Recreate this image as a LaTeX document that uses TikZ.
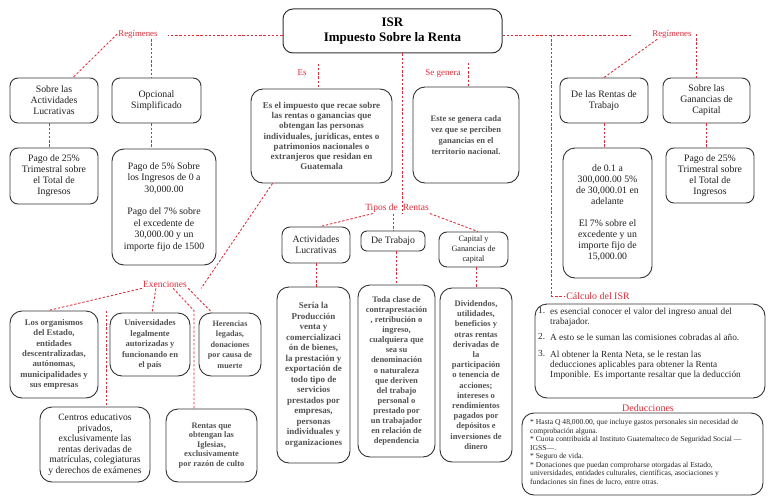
\documentclass[tikz,border=0pt]{standalone}
\usepackage{fontspec}
\setmainfont{Liberation Serif}
\usetikzlibrary{calc}
\definecolor{rd}{RGB}{226,42,54}
\begin{document}
\begin{tikzpicture}[x=1pt,y=-1pt,
  bx/.style={draw=black!80, line width=0.9pt, rounded corners=8pt, align=center, inner sep=1pt, text=black!88},
  rg/.style 2 args={font=\fontsize{#1}{#2}\selectfont},
  gb/.style 2 args={text=black!68, font=\bfseries\fontsize{#1}{#2}\selectfont},
  lb/.style={text=rd, inner sep=1pt},
  cn/.style={draw=rd, line width=0.85pt, dash pattern=on 2.4pt off 1.8pt}
]
\fill[white] (0,0) rectangle (768,503);
\useasboundingbox (0,0) rectangle (768,503);

% title
\node[bx, rounded corners=10pt, line width=1pt, minimum width=219pt, minimum height=44pt,
      font=\bfseries\fontsize{13}{15.7}\selectfont, text=black] (title) at (392.5,31) {ISR\\Impuesto Sobre la Renta};

% labels
\node[lb, rg={8.8}{10}] (reg1) at (138,34) {Regímenes};
\node[lb, rg={8.8}{10}] (reg2) at (672,34) {Regímenes};
\node[lb, rg={9}{10}] (esl) at (302,73) {Es};
\node[lb, rg={9}{10}] (genl) at (443,73) {Se genera};
\node[lb, rg={9.5}{11}] (tipos) at (397,208) {Tipos de\hspace{5pt}Rentas};
\node[lb, rg={9.5}{11}] (exl) at (165,284) {Exenciones};
\node[lb, rg={9.9}{11}] (calcl) at (598,296) {Cálculo del ISR};
\node[lb, rg={10}{11}] (dedl) at (648,408) {Deducciones};

% left regimes
\node[bx, rg={9.8}{11}, minimum width=88pt, minimum height=45pt] (b1) at (54,100.5) {Sobre las\\Actividades\\Lucrativas};
\node[bx, rg={9.8}{11}, minimum width=89pt, minimum height=45pt] (b2) at (156.5,100.5) {Opcional\\Simplificado};
\node[bx, rg={9.8}{11}, minimum width=88pt, minimum height=56pt] (p1) at (54,176) {Pago de 25\%\\Trimestral sobre\\el Total de\\Ingresos};
\node[bx, rounded corners=12pt, rg={9.8}{11.5}, minimum width=104pt, minimum height=116pt] (p2) at (164,207) {Pago de 5\% Sobre\\los Ingresos de 0 a\\30,000.00\\[11pt]Pago del 7\% sobre\\el excedente de\\30,000.00 y un\\importe fijo de 1500};

% right regimes
\node[bx, rg={9.8}{11}, minimum width=88pt, minimum height=45pt] (b3) at (604,100.5) {De las Rentas de\\Trabajo};
\node[bx, rg={9.8}{11}, minimum width=87pt, minimum height=45pt] (b4) at (706.5,100.5) {Sobre las\\Ganancias de\\Capital};
\node[bx, rounded corners=12pt, rg={9.8}{11}, minimum width=89pt, minimum height=130pt] (p3) at (607.5,213) {de 0.1 a\\300,000.00 5\%\\de 30,000.01 en\\adelante\\[11pt]El 7\% sobre el\\excedente y un\\importe fijo de\\15,000.00};
\node[bx, rg={9.8}{11}, minimum width=88pt, minimum height=55pt] (p4) at (710,175.5) {Pago de 25\%\\Trimestral sobre\\el Total de\\Ingresos};

% Es / Se genera
\node[bx, rounded corners=12pt, gb={9}{10.1}, minimum width=141pt, minimum height=94pt] (es) at (321.5,136) {Es el impuesto que recae sobre\\las rentas o ganancias que\\obtengan las personas\\individuales, jurídicas, entes o\\patrimonios nacionales o\\extranjeros que residan en\\Guatemala};
\node[bx, rounded corners=12pt, gb={8.5}{11}, minimum width=106pt, minimum height=96pt] (gen) at (466,135) {Este se genera cada\\vez que se perciben\\ganancias en el\\territorio nacional.};

% tipos de rentas
\node[bx, rg={9.8}{11}, minimum width=68pt, minimum height=36pt] (act) at (316,245) {Actividades\\Lucrativas};
\node[bx, rounded corners=6pt, rg={9.8}{11}, minimum width=64pt, minimum height=20pt] (trab) at (393,241) {De Trabajo};
\node[bx, rg={8.2}{9.8}, minimum width=69pt, minimum height=35pt] (cap) at (473.5,249.5) {Capital y\\Ganancias de\\capital};
\node[bx, rounded corners=12pt, gb={9}{10.5}, minimum width=73pt, minimum height=176pt] (t1) at (313.5,375) {Sería la\\Producción\\venta y\\comercializaci\\ón de bienes,\\la prestación y\\exportación de\\todo tipo de\\servicios\\prestados por\\empresas,\\personas\\individuales y\\organizaciones};
\node[bx, rounded corners=12pt, gb={8.5}{10.1}, minimum width=77pt, minimum height=172pt] (t2) at (396.5,371) {Toda clase de\\contraprestación\\, retribución o\\ingreso,\\cualquiera que\\sea su\\denominación\\o naturaleza\\que deriven\\del trabajo\\personal o\\prestado por\\un trabajador\\en relación de\\dependencia};
\node[bx, rounded corners=12pt, gb={8.5}{10.2}, minimum width=72pt, minimum height=174pt] (t3) at (476,375) {Dividendos,\\utilidades,\\beneficios y\\otras rentas\\derivadas de\\la\\participación\\o tenencia de\\acciones;\\intereses o\\rendimientos\\pagados por\\depósitos e\\inversiones de\\dinero};

% exenciones
\node[bx, rounded corners=12pt, gb={8.7}{10.4}, minimum width=88pt, minimum height=87pt] (e1) at (54,354.5) {Los organismos\\del Estado,\\entidades\\descentralizadas,\\autónomas,\\municipalidades y\\sus empresas};
\node[bx, rounded corners=12pt, gb={8.5}{10.5}, minimum width=80pt, minimum height=63pt] (e2) at (150,344.5) {Universidades\\legalmente\\autorizadas y\\funcionando en\\el país};
\node[bx, rounded corners=12pt, gb={8.2}{10.5}, minimum width=62pt, minimum height=63pt] (e3) at (230,344.5) {Herencias\\legadas,\\donaciones\\por causa de\\muerte};
\node[bx, rounded corners=12pt, rg={9.6}{10.5}, minimum width=110pt, minimum height=75pt] (e4) at (95,444.5) {Centros educativos\\privados,\\exclusivamente las\\rentas derivadas de\\matrículas, colegiaturas\\y derechos de exámenes};
\node[bx, rounded corners=12pt, gb={8.4}{9.6}, minimum width=91pt, minimum height=73pt] (e5) at (211.5,445.5) {Rentas que\\obtengan las\\Iglesias,\\exclusivamente\\por razón de culto};

% calculo and deducciones boxes
\node[bx, rounded corners=12pt, minimum width=230pt, minimum height=94pt] (calc) at (650,351) {};
\node[bx, rounded corners=12pt, minimum width=241pt, minimum height=82pt] (ded) at (642.5,454) {};

\begin{scope}[every node/.style={inner sep=0pt, anchor=north west, align=left, text=black!85, font=\fontsize{9.3}{10.2}\selectfont}]
\node (n1) at (538,307.5) {1.};
\node (i1) at (550,307.5) {es esencial conocer el valor del ingreso anual del\\trabajador.};
\node (n2) at (538,333.5) {2.};
\node (i2) at (550,333.5) {A esto se le suman las comisiones cobradas al año.};
\node (n3) at (538,350.5) {3.};
\node (i3) at (550,350.5) {Al obtener la Renta Neta, se le restan las\\deducciones aplicables para obtener la Renta\\Imponible. Es importante resaltar que la deducción};
\end{scope}

\begin{scope}
\clip (523,414) rectangle (762,485.5);
\node[inner sep=0pt, anchor=north west, align=left, text=black!85, font=\fontsize{7.6}{8.5}\selectfont] (dtx) at (530,419.5) {* Hasta Q 48,000.00, que incluye gastos personales sin necesidad de\\comprobación alguna.\\* Cuota contribuida al Instituto Guatemalteco de Seguridad Social —\\IGSS—.\\* Seguro de vida.\\* Donaciones que puedan comprobarse otorgadas al Estado,\\universidades, entidades culturales, científicas, asociaciones y\\fundaciones sin fines de lucro, entre otras.};
\end{scope}

% connectors
\coordinate (tw) at ([yshift=-4pt]title.west);
\coordinate (te) at ([yshift=-4pt]title.east);
\draw[cn, shorten >=9pt] (tw) -- (tw -| reg1.east);
\draw[cn, shorten >=19pt] (te) -- (te -| reg2.west);
\draw[cn] (reg1.west) -- ([xshift=19pt]b1.north);
\coordinate (c4) at ([xshift=-5.5pt]b2.north);
\draw[cn] (c4 |- reg1.south) -- (c4);
\draw[cn] ([xshift=-5pt]b1.south) -- ([xshift=-5pt]p1.north);
\coordinate (c6) at ([xshift=-5.5pt]b2.south);
\draw[cn] (c6) -- (c6 |- p2.north);
\draw[cn] ([xshift=6pt]reg2.south west) -- (b3.north);
\coordinate (c8) at ([xshift=-10.5pt]b4.north);
\draw[cn] (c8 |- reg2.center) -- (c8);
\draw[cn] (b3.south) -- (b3.south |- p3.north);
\draw[cn] (b4.south) -- (b4.south |- p4.north);
\coordinate (j1) at ($(te)+(49,0)$);
\draw[cn] (j1) |- (calcl.west);

\coordinate (c12) at ([xshift=-3.5pt]es.north);
\draw[cn, shorten <=-5pt] (c12 |- esl.north) -- (c12);
\coordinate (c13) at ([xshift=2pt]gen.north);
\draw[cn, shorten <=-5pt] (c13 |- genl.north) -- (c13);

\coordinate (c14) at ([xshift=9.5pt]title.south);
\draw[cn] (c14) -- (c14 |- tipos.south);
\draw[cn] ([xshift=9pt]tipos.south west) -- ([xshift=4pt]act.north);
\draw[cn] (trab.north |- tipos.south) -- (trab.north);
\draw[cn] (tipos.south east) -- ([xshift=4.5pt]cap.north);
\draw[cn] (act.south) -- (act.south |- t1.north);
\draw[cn] ([xshift=3pt]trab.south) -- ([xshift=3pt]trab.south |- t2.north);
\draw[cn] ([xshift=2.5pt]cap.south) -- ([xshift=2.5pt]cap.south |- t3.north);

\draw[cn] ([xshift=22pt]es.south west) -- ([xshift=13pt]exl.south east);
\draw[cn] (exl.south west) -- ([xshift=-6pt]e1.north);
\draw[cn] ([xshift=14pt]exl.south west) -- ([xshift=2pt]e2.north);
\coordinate (c24) at ([xshift=11pt]e4.north);
\draw[cn] (c24 |- e1.north) -- (c24);
\coordinate (c25) at ([xshift=-17.5pt]e5.north);
\draw[cn] ([xshift=-15pt]exl.south east) -- ([yshift=2pt]c25 |- e3.north) -- (c25);
\draw[cn] (exl.south east) -- ([xshift=-18pt]e3.north);
\end{tikzpicture}
\end{document}
